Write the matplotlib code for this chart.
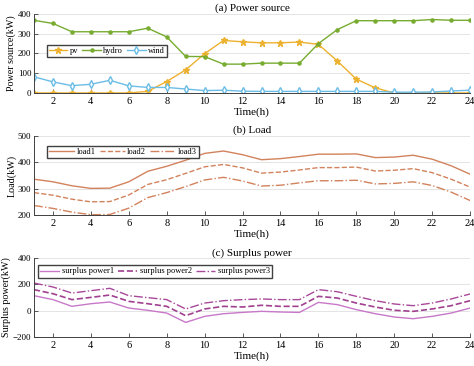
import numpy as np
from matplotlib import pyplot as plt

plt.rcParams['font.family'] = ['Liberation Serif', 'DejaVu Serif']
plt.rcParams['font.size'] = 7

hours = list(range(1, 25))

# (a) power source
pv = [0, 0, 0, 0, 0, 0, 8, 58, 117, 199, 266, 259, 254, 254, 258, 246, 162, 70, 26, 0, 0, 0, 0, 0]
hydro = [368, 352, 310, 310, 310, 310, 328, 284, 185, 184, 146, 146, 151, 151, 151, 250, 321, 366, 366, 366, 366, 372, 368, 368]
wind = [82, 56, 37, 44, 64, 36, 28, 28, 20, 12, 14, 9, 8, 8, 8, 8, 8, 8, 8, 4, 4, 5, 10, 14]

# (b) load
load1 = [336, 326, 311, 301, 302, 326, 366, 385, 408, 434, 443, 429, 410, 414, 422, 431, 431, 432, 418, 420, 427, 412, 387, 355]
load2 = [285, 275, 260, 250, 251, 276, 316, 334, 358, 383, 392, 379, 359, 363, 371, 380, 380, 382, 367, 370, 376, 361, 336, 306]
load3 = [236, 225, 211, 201, 202, 226, 266, 285, 308, 333, 343, 329, 310, 313, 322, 330, 330, 332, 318, 320, 326, 312, 287, 255]

# (c) surplus power
sp1 = [114, 84, 33, 53, 66, 20, 3, -18, -89, -43, -23, -13, -5, -10, -13, 63, 46, 8, -23, -48, -61, -43, -18, 20]
sp2 = [160, 129, 84, 101, 119, 71, 53, 33, -38, 13, 33, 28, 41, 33, 33, 109, 96, 58, 28, 3, -5, 13, 38, 76]
sp3 = [210, 180, 134, 152, 170, 114, 99, 84, 13, 58, 76, 84, 89, 84, 84, 160, 144, 109, 76, 51, 38, 58, 89, 127]

fig = plt.figure(figsize=(4.74, 3.66), dpi=100)
ax_a = fig.add_axes([0.0717, 0.746, 0.92, 0.2158])
ax_b = fig.add_axes([0.0717, 0.4126, 0.92, 0.2158])
ax_c = fig.add_axes([0.0717, 0.0792, 0.92, 0.2158])


def style_axes(ax, title, ylabel, yticks):
    ax.set_xlim(1, 24)
    ax.set_ylim(yticks[0], yticks[-1])
    ax.set_xticks(range(2, 25, 2))
    ax.set_yticks(yticks)
    ax.grid(axis='y', color='#e4e4e4', linewidth=0.7)
    ax.set_axisbelow(True)
    for s in ['top', 'right']:
        ax.spines[s].set_visible(False)
    for s in ['left', 'bottom']:
        ax.spines[s].set_color('#404040')
        ax.spines[s].set_linewidth(0.7)
    ax.tick_params(direction='in', length=3, width=0.6, color='#404040', pad=3)
    ax.tick_params(axis='x', labelsize=7.5)
    ax.tick_params(axis='y', labelsize=6.5, pad=2)
    ax.set_title(title, fontsize=8, pad=2)
    ax.set_xlabel('Time(h)', fontsize=8, labelpad=1)
    ax.set_ylabel(ylabel, fontsize=7.2, labelpad=1)


def add_legend(ax, x, y, handlelength):
    ax.legend(loc='upper left', bbox_to_anchor=(x, y), ncol=3, fontsize=6, frameon=True,
              fancybox=False, edgecolor='#404040', framealpha=1, handlelength=handlelength,
              handletextpad=0.3, columnspacing=0.5, borderpad=0.25)


ax_a.plot(hours, pv, color='#EDB130', marker='*', markersize=5, linewidth=1, label='pv')
ax_a.plot(hours, hydro, color='#77AC30', marker='.', markersize=4.5, linewidth=1, label='hydro')
ax_a.plot(hours, wind, color='#6BBDE6', marker='d', markersize=4, markerfacecolor='white', linewidth=1, label='wind')
style_axes(ax_a, '(a) Power source', 'Power source(kW)', [0, 100, 200, 300, 400])
add_legend(ax_a, 0.02, 0.66, 2.2)

load_color = '#D2825C'
ax_b.plot(hours, load1, color=load_color, linestyle='-', linewidth=1, label='load1')
ax_b.plot(hours, load2, color=load_color, linestyle='--', linewidth=1, label='load2')
ax_b.plot(hours, load3, color=load_color, linestyle='-.', linewidth=1, label='load3')
style_axes(ax_b, '(b) Load', 'Load(kW)', [200, 300, 400, 500])
add_legend(ax_b, 0.02, 0.93, 3.0)

ax_c.plot(hours, sp1, color='#C878C8', linestyle='-', linewidth=1, label='surplus power1')
ax_c.plot(hours, sp2, color='#A0408F', linestyle='--', linewidth=1.2, label='surplus power2')
ax_c.plot(hours, sp3, color='#A8489A', linestyle='-.', linewidth=1, label='surplus power3')
style_axes(ax_c, '(c) Surplus power', 'Surplus power(kW)', [-200, 0, 200, 400])
add_legend(ax_c, 0.0, 0.96, 2.3)

fig.savefig('out.png', dpi=100)
